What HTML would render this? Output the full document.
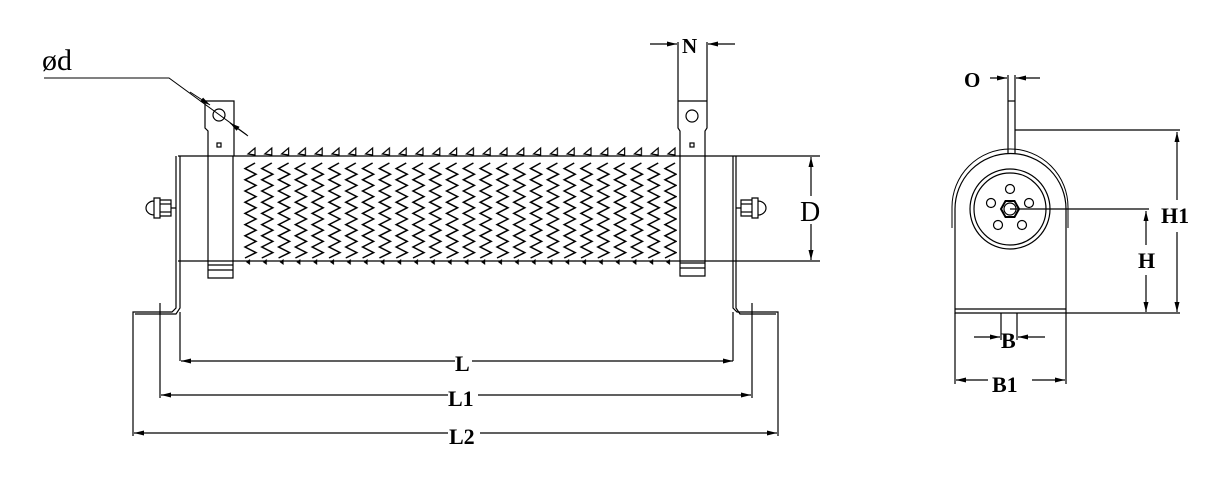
<!DOCTYPE html>
<html><head><meta charset="utf-8"><style>
html,body{margin:0;padding:0;background:#fff;}
svg{display:block}
text{font-family:"Liberation Serif",serif;font-weight:bold;fill:#000}
</style></head><body>
<svg width="1214" height="482" viewBox="0 0 1214 482" xmlns="http://www.w3.org/2000/svg">
<defs>
<pattern id="coil" patternUnits="userSpaceOnUse" x="243" y="0" width="16.8" height="482">
<polyline fill="none" stroke="#000" stroke-width="1.5" points="12,163 2,168.6 13,174.2 2,179.8 13,185.4 2,191 13,196.6 2,202.2 13,207.8 2,213.4 13,219 2,224.6 13,230.2 2,235.8 13,241.4 2,247 13,252.6 2,258"/>
<polygon fill="none" stroke="#000" stroke-width="1.2" points="5,154 12,148 12,155"/>
<polygon fill="#000" points="3,262 7,259 7,265"/>
</pattern>
<marker id="ar" viewBox="0 0 10 6" refX="10" refY="3" markerWidth="10" markerHeight="6" markerUnits="userSpaceOnUse" orient="auto"><path d="M0,0.5 L10,3 L0,5.5z" fill="#000"/></marker>
</defs>
<g fill="none" stroke="#000" stroke-width="1.2">
<rect x="243" y="145" width="434" height="122" fill="url(#coil)" stroke="none"/>
<line x1="178" y1="156" x2="820" y2="156"/>
<line x1="178" y1="261" x2="820" y2="261"/>
<path d="M176,156 V308 L172,312 H133 V436"/>
<path d="M180,156 V308 L176,314 H135"/>
<line x1="160" y1="303" x2="160" y2="398"/>
<path d="M733,156 V308 L737,312 H778 V436"/>
<path d="M736,156 V308 L740,314 H776"/>
<line x1="752" y1="303" x2="752" y2="398"/>
<path d="M205,101 H234 V156 M205,101 V128 L208,131 V278 H233 V156"/>
<line x1="208" y1="265" x2="233" y2="265"/><line x1="208" y1="270" x2="233" y2="270"/>
<circle cx="219" cy="115" r="6"/>
<rect x="217" y="143" width="4" height="4"/>
<path d="M678,42 V128 L680,131 V276 H705 V131 L707,128 V42"/>
<line x1="678" y1="101" x2="707" y2="101"/>
<line x1="680" y1="263" x2="705" y2="263"/><line x1="680" y1="268" x2="705" y2="268"/>
<circle cx="692" cy="116" r="6"/>
<rect x="690" y="143" width="4" height="4"/>
<path d="M176,208 H171 M171,200 V216 H160 V200 Z M160,198 V218 H154 V198 Z M154,201 A8,7 0 0 0 154,215"/>
<line x1="160" y1="204" x2="171" y2="204"/><line x1="160" y1="212" x2="171" y2="212"/>
<path d="M736,208 H741 M741,200 V216 H752 V200 Z M752,198 V218 H758 V198 Z M758,201 A8,7 0 0 1 758,215"/>
<line x1="741" y1="204" x2="752" y2="204"/><line x1="741" y1="212" x2="752" y2="212"/>
<path d="M44,78 H169 L247,135" stroke-width="1"/>
<line x1="190" y1="92" x2="210" y2="105" marker-end="url(#ar)" stroke-width="1"/>
<line x1="248" y1="136" x2="230" y2="123" marker-end="url(#ar)" stroke-width="1"/>
<line x1="650" y1="44" x2="677" y2="44" marker-end="url(#ar)"/>
<line x1="735" y1="44" x2="708" y2="44" marker-end="url(#ar)"/>
<line x1="811" y1="196" x2="811" y2="157" marker-end="url(#ar)"/>
<line x1="811" y1="224" x2="811" y2="260" marker-end="url(#ar)"/>
<line x1="455" y1="361" x2="181" y2="361" marker-end="url(#ar)"/>
<line x1="472" y1="361" x2="733" y2="361" marker-end="url(#ar)"/>
<line x1="180" y1="312" x2="180" y2="361"/><line x1="733" y1="312" x2="733" y2="361"/>
<line x1="448" y1="395" x2="161" y2="395" marker-end="url(#ar)"/>
<line x1="478" y1="395" x2="751" y2="395" marker-end="url(#ar)"/>
<line x1="448" y1="433" x2="134" y2="433" marker-end="url(#ar)"/>
<line x1="480" y1="433" x2="777" y2="433" marker-end="url(#ar)"/>
<path d="M1008,75 V154 M1015,75 V154"/>
<line x1="1008" y1="101" x2="1015" y2="101"/>
<path d="M955,313 V209 A55.5,55.5 0 0 1 1066,209 V313 Z"/>
<path d="M952,228 V207 A58,58 0 0 1 1068,207 V228" stroke-width="1"/>
<line x1="955" y1="309" x2="1066" y2="309"/>
<circle cx="1010" cy="209" r="40"/>
<circle cx="1010" cy="209" r="36"/>
<circle cx="1010" cy="189" r="4.5"/>
<circle cx="1029" cy="203" r="4.5"/>
<circle cx="1022" cy="225" r="4.5"/>
<circle cx="998" cy="225" r="4.5"/>
<circle cx="991" cy="203" r="4.5"/>
<polygon points="1019,209 1014.5,217 1005.5,217 1001,209 1005.5,201 1014.5,201" stroke-width="2"/>
<circle cx="1010" cy="209" r="6"/>
<line x1="1010" y1="209" x2="1149" y2="209"/>
<line x1="1015" y1="130" x2="1180" y2="130"/>
<line x1="1066" y1="313" x2="1180" y2="313"/>
<line x1="1146" y1="245" x2="1146" y2="211" marker-end="url(#ar)"/>
<line x1="1146" y1="275" x2="1146" y2="312" marker-end="url(#ar)"/>
<line x1="1177" y1="200" x2="1177" y2="132" marker-end="url(#ar)"/>
<line x1="1177" y1="232" x2="1177" y2="312" marker-end="url(#ar)"/>
<line x1="990" y1="78" x2="1007" y2="78" marker-end="url(#ar)"/>
<line x1="1040" y1="78" x2="1016" y2="78" marker-end="url(#ar)"/>
<line x1="1001" y1="313" x2="1001" y2="340"/><line x1="1017" y1="313" x2="1017" y2="340"/>
<line x1="974" y1="337" x2="1000" y2="337" marker-end="url(#ar)"/>
<line x1="1045" y1="337" x2="1018" y2="337" marker-end="url(#ar)"/>
<line x1="955" y1="313" x2="955" y2="384"/><line x1="1066" y1="313" x2="1066" y2="384"/>
<line x1="988" y1="380" x2="956" y2="380" marker-end="url(#ar)"/>
<line x1="1032" y1="380" x2="1065" y2="380" marker-end="url(#ar)"/>
</g>
<text x="42" y="70" font-size="30" style="font-weight:normal">ød</text>
<text x="682" y="53" font-size="21">N</text>
<text x="800" y="221" font-size="28" style="font-weight:normal">D</text>
<text x="455" y="371" font-size="22">L</text>
<text x="448" y="406" font-size="22">L1</text>
<text x="449" y="444" font-size="22">L2</text>
<text x="964" y="87" font-size="21">O</text>
<text x="1161" y="223" font-size="22">H1</text>
<text x="1138" y="268" font-size="22">H</text>
<text x="1001" y="348" font-size="22">B</text>
<text x="992" y="392" font-size="22">B1</text>
</svg>
</body></html>
